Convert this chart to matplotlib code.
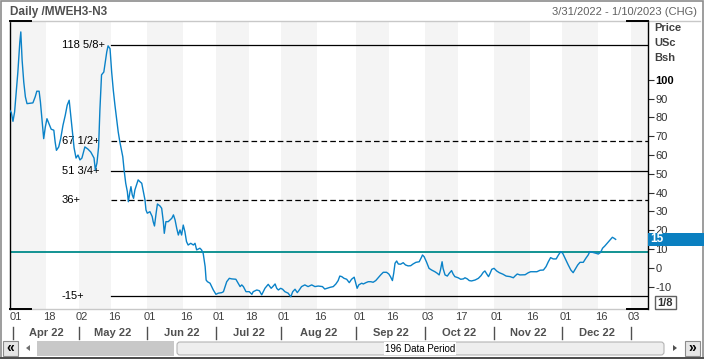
import matplotlib
matplotlib.use("Agg")
import matplotlib.pyplot as plt
from matplotlib.patches import Rectangle, FancyBboxPatch, Polygon
from matplotlib.transforms import blended_transform_factory, ScaledTranslation
from matplotlib.lines import Line2D

plt.rcParams['font.family'] = ['Liberation Sans', 'DejaVu Sans']

# ---------------- data ----------------
title = "Daily /MWEH3-N3"
date_range = "3/31/2022 - 1/10/2023 (CHG)"
units = ["Price", "USc", "Bsh"]

# trading-day index (0 = Apr 01 2022) and spread value (USc/Bsh)
day_idx = [-1.1, -0.6, -0.1, 0.4, 0.9, 1.4, 2.0, 2.3, 2.7, 3.2, 3.7, 4.2, 6.0, 6.7, 7.2, 7.9,
           8.3, 8.8, 9.3, 9.8, 10.3, 10.9, 11.6, 12.4, 12.8, 13.2, 13.9, 14.5, 15.2, 15.9, 16.5,
           17.1, 18.6, 19.2, 19.8, 20.4, 21.0, 21.9, 22.8, 23.7, 24.7, 25.1, 25.6, 26.1, 26.5,
           27.0, 27.7, 28.6, 29.0, 29.6, 30.1, 30.6, 31.1, 31.6, 32.1, 32.6, 33.5, 33.9, 34.4,
           34.9, 35.2, 35.7, 36.0, 36.4, 36.8, 37.2, 37.7, 38.2, 38.7, 39.3, 39.8, 40.3, 40.6,
           41.0, 41.8, 42.5, 42.8, 43.2, 43.7, 44.1, 44.9, 45.4, 45.9, 46.2, 46.7, 47.4, 48.5,
           49.0, 49.5, 50.0, 50.5, 51.0, 51.5, 52.0, 52.5, 53.0, 53.5, 54.3, 55.1, 55.6, 56.1,
           57.1, 57.6, 58.1, 58.7, 59.0, 59.4, 60.2, 61.2, 62.0, 62.7, 63.8, 64.3, 64.8, 65.3,
           66.1, 66.8, 68.1, 68.8, 69.4, 69.9, 70.4, 71.2, 72.2, 73.0, 73.4, 74.5, 75.3, 76.0,
           76.5, 77.0, 78.0, 78.9, 79.4, 80.1, 80.6, 81.1, 81.8, 82.4, 83.1, 84.1, 84.9, 85.5,
           86.2, 86.9, 87.5, 88.2, 89.2, 90.2, 91.3, 92.3, 93.3, 94.6, 95.3, 96.0, 96.9, 97.9,
           98.7, 99.4, 99.9, 100.5, 101.2, 102.0, 102.8, 103.5, 104.3, 104.8, 105.2, 105.7,
           106.6, 107.1, 107.9, 108.6, 109.4, 110.1, 110.9, 111.5, 112.4, 113.2, 114.2, 114.9,
           115.4, 116.0, 116.4, 116.8, 117.3, 117.8, 118.5, 119.3, 120.0, 120.8, 121.6, 122.3,
           123.2, 124.2, 124.9, 125.2, 125.7, 126.4, 127.2, 128.0, 129.0, 129.7, 130.3, 130.7,
           131.2, 131.5, 132.1, 132.8, 133.4, 134.1, 134.6, 135.1, 136.1, 136.9, 137.7, 138.2,
           138.9, 139.5, 140.2, 141.3, 142.3, 143.1, 143.8, 144.3, 144.9, 145.4, 145.9, 146.4,
           147.1, 147.9, 148.7, 149.8, 150.8, 152.0, 153.0, 153.5, 154.2, 155.0, 156.6, 157.6,
           158.3, 160.2, 161.2, 162.2, 163.0, 163.7, 164.4, 165.2, 166.1, 166.8, 167.5, 168.1,
           168.8, 169.8, 170.6, 171.3, 172.1, 172.7, 173.4, 174.4, 175.2, 175.9, 176.4, 177.3,
           178.3, 179.0, 179.7, 180.3, 181.0, 181.7, 182.6, 183.3, 183.8, 184.3]
price = [83.8, 82.5, 77.9, 82.9, 93.5, 104.1, 120.1, 125.4, 110.4, 98.8, 90.9, 87.3, 87.7, 90.9,
         93.9, 93.9, 88.2, 78.5, 68.7, 74.9, 79.3, 76.7, 73.7, 73.2, 67.0, 62.5, 64.3, 68.7,
         75.8, 81.1, 86.5, 89.1, 63.8, 58.4, 60.0, 57.4, 58.4, 64.3, 63.2, 61.6, 58.4, 52.1,
         55.8, 64.3, 84.0, 102.6, 104.1, 114.8, 118.0, 116.5, 104.1, 94.4, 86.5, 79.3, 72.3,
         67.0, 59.1, 52.1, 45.0, 40.5, 35.2, 40.5, 43.2, 38.8, 37.0, 41.4, 44.1, 46.8, 45.9,
         45.0, 40.5, 36.1, 30.8, 29.1, 29.9, 27.3, 24.6, 22.3, 29.1, 34.0, 32.9, 31.7, 24.6,
         18.4, 24.6, 24.6, 26.4, 28.2, 25.5, 21.1, 17.5, 20.2, 17.5, 22.8, 19.3, 14.0, 12.2,
         13.1, 12.2, 13.1, 9.6, 10.5, 9.6, 7.8, 0.7, -6.4, -7.3, -8.1, -11.7, -14.0, -13.4,
         -13.1, -12.6, -9.9, -7.3, -5.5, -5.8, -6.0, -8.1, -9.9, -9.0, -9.9, -12.6, -12.6,
         -14.0, -12.6, -11.7, -12.1, -14.3, -12.6, -10.8, -8.7, -10.8, -9.9, -8.5, -10.8,
         -11.7, -10.8, -11.3, -12.6, -13.4, -15.3, -12.6, -11.3, -13.1, -11.7, -9.9, -9.0,
         -9.9, -9.0, -9.9, -9.6, -9.9, -11.2, -10.8, -10.3, -9.9, -8.5, -6.7, -4.3, -4.6,
         -5.5, -6.0, -7.8, -6.0, -4.9, -8.1, -10.8, -9.0, -8.1, -8.5, -7.8, -7.3, -7.3, -7.6,
         -6.7, -5.5, -3.7, -2.3, -2.3, -3.2, -4.6, -6.7, -2.8, 2.5, 3.7, 2.1, 2.0, 2.8, 1.6,
         1.1, 1.2, 2.1, 3.0, 3.3, 5.7, 6.9, 6.0, 3.3, -0.2, -1.1, -2.0, -2.8, -3.7, -1.1, 3.3,
         -0.2, -3.7, -4.3, -2.8, -1.4, -3.3, -4.6, -5.2, -6.0, -5.8, -5.2, -5.8, -6.7, -6.9,
         -6.4, -5.5, -4.1, -2.3, -1.6, -3.3, -4.6, -2.8, -0.7, -0.2, -1.6, -2.5, -3.3, -4.3,
         -4.6, -5.2, -4.3, -3.2, -3.7, -3.6, -2.5, -2.0, -2.0, -1.2, -1.1, 0.7, 3.3, 5.5, 4.8,
         4.8, 6.9, 8.7, 7.8, 5.2, 1.6, -1.1, -2.5, -0.2, 1.6, 3.0, 3.0, 5.2, 6.9, 8.7, 8.3,
         7.8, 7.4, 8.3, 10.5, 11.7, 13.1, 14.9, 16.3, 15.8, 15.2]

tick_idx = [0, 10, 20, 30, 41, 52, 62, 72, 82, 93, 105, 115, 126, 136, 147, 158, 168, 179, 189]
tick_lbl = ["01", "18", "02", "16", "01", "16", "01", "18", "01", "16",
            "01", "16", "03", "17", "01", "16", "01", "16", "03"]
month_start = [0, 20, 41, 62, 82, 105, 126, 147, 168, 189]
month_lbl = ["Apr 22", "May 22", "Jun 22", "Jul 22", "Aug 22",
             "Sep 22", "Oct 22", "Nov 22", "Dec 22"]

level_vals = [118.625, 67.5, 51.75, 36, -15]
level_lbls = ["118 5/8+", "67 1/2+", "51 3/4+", "36+", "-15+"]
level_dashed = [False, True, False, True, False]
level_start = 29.9
label_x = 14.9
ref_level = 8.5

y_ticks = [100, 90, 80, 70, 60, 50, 40, 30, 20, 10, 0, -10]
y_tick_lbl = ["100", "90", "80", "70", "60", "50", "40", "30", "20", "10", "0", "-10"]
x_range = (-1.16, 194.2)
y_range = (-21.8, 131.2)
scroll_text = "196 Data Period"
frac_text = "1/8"

# ---------------- figure ----------------
W, H = 704, 359
fig = plt.figure(figsize=(W / 100, H / 100), dpi=100)
fig.patch.set_facecolor('white')

ov = fig.add_axes([0, 0, 1, 1], zorder=0)
ov.set_xlim(0, W)
ov.set_ylim(H, 0)
ov.axis('off')

L, R, T, B = 9.5, 648, 21, 309
ax = fig.add_axes([L / W, 1 - B / H, (R - L) / W, (B - T) / H], zorder=1)
ax.set_facecolor('white')
ax.set_xlim(*x_range)
ax.set_ylim(*y_range)

# alternating half-month shading
for k in range(0, len(tick_idx), 2):
    s = x_range[0] if k == 0 else tick_idx[k]
    e = tick_idx[k + 1] if k + 1 < len(tick_idx) else x_range[1]
    ax.axvspan(s, e, color='#f4f4f4', lw=0, zorder=0)

# reference lines
ax.axhline(ref_level, color='#008a8a', lw=1.3, zorder=2)
for v, lab, d in zip(level_vals, level_lbls, level_dashed):
    ax.plot([level_start, x_range[1]], [v, v], color='black', lw=0.9,
            linestyle=(0, (4.5, 2.5)) if d else '-', zorder=2)
    ax.text(label_x, v, lab, ha='left', va='center', fontsize=8, color='black', zorder=3)

# price line
ax.plot(day_idx, price, color='#0a82c8', lw=1.0, zorder=4)

# spines
for s in ['left', 'right']:
    ax.spines[s].set_color('black')
    ax.spines[s].set_linewidth(1.0)
for s in ['top', 'bottom']:
    ax.spines[s].set_color('#c8c8c8')
    ax.spines[s].set_linewidth(1.0)
cw = 21 / (R - L)
for y in (0, 1):
    for x0, x1 in ((0, cw), (1 - cw, 1)):
        ax.add_line(Line2D([x0, x1], [y, y], transform=ax.transAxes, color='black',
                           lw=1.4, clip_on=False, zorder=6))

# x axis: day labels
ax.set_xticks(tick_idx)
ax.set_xticklabels(tick_lbl)
ax.tick_params(axis='x', length=0, pad=2.5, labelsize=8, labelcolor='#404040')
off = ScaledTranslation(3 / 100, 0, fig.dpi_scale_trans)
for lab in ax.get_xticklabels():
    lab.set_transform(lab.get_transform() + off)

# month labels and separators
bt = blended_transform_factory(ax.transData, ax.transAxes)
for i, m in enumerate(month_start):
    ax.add_line(Line2D([m, m], [(B - 327) / (B - T), (B - 339) / (B - T)], transform=bt,
                       color='#505050', lw=1.0, clip_on=False))
for i, lab in enumerate(month_lbl):
    c = (month_start[i] + month_start[i + 1]) / 2
    ax.text(c, (B - 333) / (B - T), lab, transform=bt, ha='center', va='center',
            fontsize=8, fontweight='bold', color='#505050', clip_on=False)

# y axis on the right
ax.yaxis.tick_right()
ax.set_yticks(y_ticks)
ax.set_yticklabels(y_tick_lbl)
ax.tick_params(axis='y', length=4.3, width=0.8, color='#303030', pad=1,
               labelsize=8, labelcolor='#303030')
for t in ax.get_yticklabels():
    if t.get_text() == "100":
        t.set_fontweight('bold')
        t.set_color('black')

# last value box
last = price[-1]
bt2 = blended_transform_factory(ax.transAxes, ax.transData)
box_h = 13 / 1.882
ax.add_patch(Rectangle((1.0, last - box_h / 2), (W - R) / (R - L), box_h, transform=bt2,
                       facecolor='#0a7fc0', edgecolor='none', clip_on=False, zorder=10))
ax.text(1 + 2.5 / (R - L), last, f"{round(last):d}", transform=bt2, ha='left', va='center',
        fontsize=8.5, fontweight='bold', color='white', zorder=11, clip_on=False)

# ---------------- chrome (overlay, pixel coords) ----------------
ov.add_patch(Rectangle((0.5, 0.5), W - 1.5, H - 2, fill=False, edgecolor='#8c8c8c', lw=1.2))
ov.plot([0, W], [357.5, 357.5], color='#404040', lw=1.2)
ov.plot([R, 700], [T, T], color='#c8c8c8', lw=1.0)
ov.text(10, 12, title, ha='left', va='center', fontsize=8.5, fontweight='bold', color='#505050')
ov.text(697, 12, date_range, ha='right', va='center', fontsize=8, color='#606060')
for yy, u in zip((28, 43, 58), units):
    ov.text(654, yy, u, ha='left', va='center', fontsize=8, fontweight='bold', color='#404040')
ov.add_patch(Rectangle((655, 296), 21, 13, facecolor='white', edgecolor='#606060', lw=1.0))
ov.text(665.5, 302.5, frac_text, ha='center', va='center', fontsize=8, fontweight='bold',
        color='#303030')

# scrollbar
ov.add_patch(Rectangle((3, 341), 15, 15, facecolor='#e6e6e6', edgecolor='#8c8c8c', lw=0.8))
ov.text(10.5, 348, "«", ha='center', va='center', fontsize=10, fontweight='bold', color='black')
ov.add_patch(Polygon([[30, 345], [30, 351], [26, 348]], closed=True, facecolor='#707070', lw=0))
ov.add_patch(Rectangle((37, 341), 137, 15, facecolor='#c8c8c8', edgecolor='none'))
ov.add_patch(FancyBboxPatch((177, 342), 487, 13, boxstyle="round,pad=0,rounding_size=3",
                            facecolor='#eeeeee', edgecolor='#b4b4b4', lw=0.8))
ov.text(420, 348.5, scroll_text, ha='center', va='center', fontsize=7, color='black',
        bbox=dict(facecolor='white', edgecolor='none', pad=1.0))
ov.add_patch(Polygon([[673, 345], [673, 351], [677, 348]], closed=True, facecolor='#505050', lw=0))
ov.add_patch(Rectangle((685, 341), 15, 15, facecolor='#e6e6e6', edgecolor='#8c8c8c', lw=0.8))
ov.text(692.5, 348, "»", ha='center', va='center', fontsize=10, fontweight='bold', color='black')

fig.savefig("out.png", dpi=100, facecolor='white')
